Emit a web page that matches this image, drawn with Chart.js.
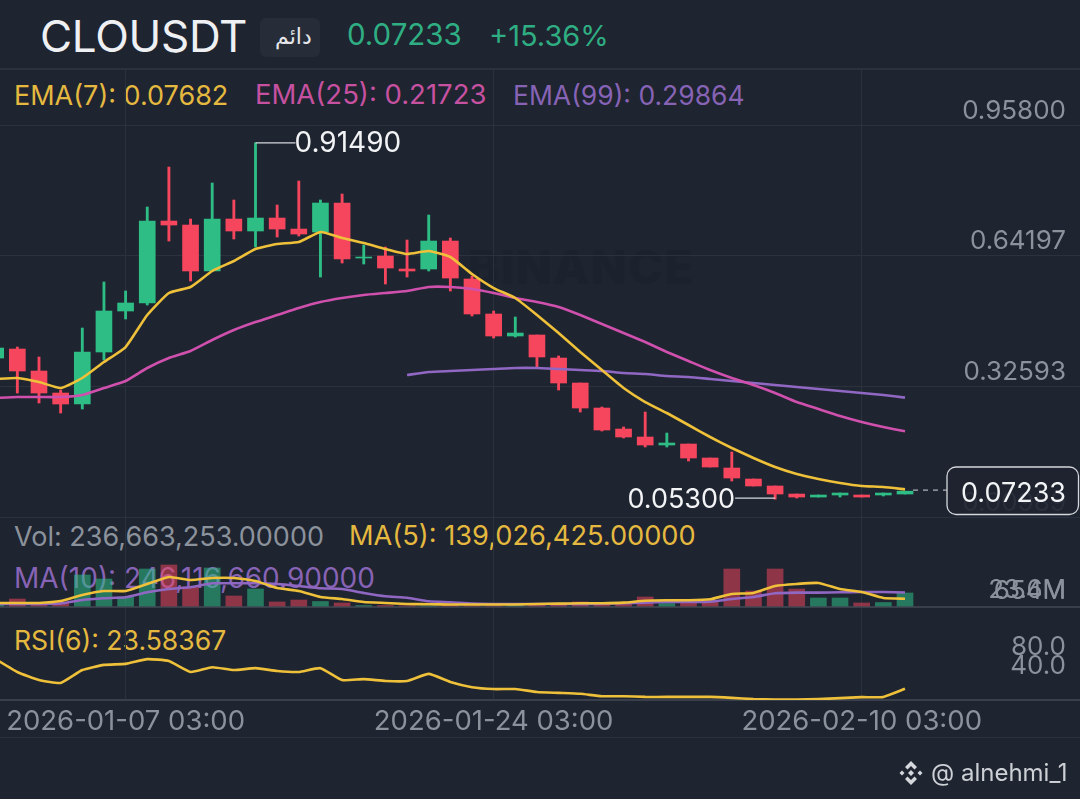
<!DOCTYPE html>
<html><head><meta charset="utf-8">
<script src="https://cdn.jsdelivr.net/npm/chart.js@4"></script>
<style>
html,body{margin:0;padding:0;background:#1e2430;width:1080px;height:799px;overflow:hidden}
body{position:relative;font-family:Inter,"Noto Sans",sans-serif}
.t{position:absolute;white-space:nowrap;line-height:1;transform:translateY(-50%)}
.h{position:absolute;left:0;width:1080px;height:2px;background:#2c323d}
canvas{position:absolute;left:0;top:0}
</style></head><body>
<div class="t" style="left:468px;top:266px;font-size:47px;font-weight:800;color:#1c222d;letter-spacing:1.500px">BINANCE</div>
<div class="h" style="top:68px"></div><div class="h" style="top:737px;height:1px"></div>
<div class="t" style="left:40px;top:36px;font-size:44px;color:#eef0f3;letter-spacing:-.3px">CLOUSDT</div>
<div style="position:absolute;left:260px;top:18px;width:60px;height:39px;background:#262c38;border-radius:6px"></div>
<div class="t" dir="rtl" style="left:275px;top:37px;font-family:'DejaVu Sans';font-size:22px;color:#e4e6ea">دائم</div>
<div class="t" style="left:347px;top:35px;font-size:29.500px;color:#2fae83">0.07233</div>
<div class="t" style="left:489px;top:35px;font-size:29px;color:#2fae83">+15.36%</div>
<div class="t" style="left:14px;top:95px;font-size:27px;color:#e5b93f">EMA(7): 0.07682</div>
<div class="t" style="left:255px;top:95px;font-size:27.500px;color:#c651a0">EMA(25): 0.21723</div>
<div class="t" style="left:513px;top:95px;font-size:26.500px;color:#8763b5">EMA(99): 0.29864</div>
<div class="t" style="left:14px;top:536px;font-size:27px;color:#8b929c">Vol: 236,663,253.00000</div>
<div class="t" style="left:349px;top:536px;font-size:27.200px;color:#e5b93f">MA(5): 139,026,425.00000</div>
<div class="t" style="left:14px;top:578px;font-size:28px;color:#8763b5">MA(10): 246,116,660.90000</div>
<div class="t" style="left:14px;top:640px;font-size:26.600px;color:#e5b93f">RSI(6): 23.58367</div>
<canvas id="c" width="1080" height="799"></canvas>
<svg style="position:absolute;left:896px;top:758px" width="30" height="30" viewBox="0 0 30 30"><g fill="#d5d8dc"><path d="M15 3l6 6-2.5 2.5L15 8l-3.500 3.500L9 9z"/><path d="M15 27l6-6-2.500-2.500L15 22l-3.500-3.500L9 21z"/><path d="M15 12l3 3-3 3-3-3z"/><path d="M6 12.500l2.500 2.500L6 17.500 3.500 15z"/><path d="M24 12.500l2.500 2.500-2.500 2.500-2.500-2.500z"/></g></svg>
<div class="t" style="left:931px;top:773px;font-size:24px;color:#cdd0d5">@ alnehmi_1</div>
<script>
const categories=["2026-01-01 03:00","2026-01-02 03:00","2026-01-03 03:00","2026-01-04 03:00","2026-01-05 03:00","2026-01-06 03:00","2026-01-07 03:00","2026-01-08 03:00","2026-01-09 03:00","2026-01-10 03:00","2026-01-11 03:00","2026-01-12 03:00","2026-01-13 03:00","2026-01-14 03:00","2026-01-15 03:00","2026-01-16 03:00","2026-01-17 03:00","2026-01-18 03:00","2026-01-19 03:00","2026-01-20 03:00","2026-01-21 03:00","2026-01-22 03:00","2026-01-23 03:00","2026-01-24 03:00","2026-01-25 03:00","2026-01-26 03:00","2026-01-27 03:00","2026-01-28 03:00","2026-01-29 03:00","2026-01-30 03:00","2026-01-31 03:00","2026-02-01 03:00","2026-02-02 03:00","2026-02-03 03:00","2026-02-04 03:00","2026-02-05 03:00","2026-02-06 03:00","2026-02-07 03:00","2026-02-08 03:00","2026-02-09 03:00","2026-02-10 03:00","2026-02-11 03:00","2026-02-12 03:00"];
const opens=[.3944,.4162,.3630,.3098,.2832,.4090,.5081,.5275,.7258,.7161,.6049,.7306,.7016,.7330,.7064,.6992,.7693,.6363,.6411,.6097,.6097,.6774,.5855,.5009,.4477,.4501,.3944,.3340,.2735,.2227,.2034,.1840,.1864,.1526,.1284,.1018,.0849,.0655,.0582,.0631,.0631,.0631,.0655];
const closes=[.4186,.3630,.3098,.2832,.4090,.5081,.5275,.7258,.7161,.6049,.7306,.7016,.7330,.7064,.6943,.7693,.6339,.6387,.6121,.6049,.6774,.5879,.5009,.4477,.4549,.3969,.3340,.2735,.2203,.2034,.1840,.1889,.1526,.1308,.1042,.0849,.0655,.0582,.0631,.0679,.0582,.0679,.07233];
const highs=[.4186,.4210,.3969,.3170,.4670,.5783,.5565,.7597,.8564,.7306,.8177,.7766,.9149,.7645,.8225,.7766,.7911,.6677,.6629,.6798,.7403,.6847,.5928,.5081,.4936,.4501,.3993,.3340,.2759,.2276,.2638,.2130,.1864,.1526,.1671,.1018,.0849,.0655,.0631,.0679,.0631,.0679,.07233];
const lows=[.3944,.3098,.2856,.2614,.2711,.3896,.4888,.5226,.6774,.5807,.6049,.6823,.6629,.6871,.6895,.5903,.6242,.6218,.5734,.5903,.6049,.5565,.4960,.4428,.4452,.3727,.3170,.2638,.2179,.2010,.1792,.1792,.1453,.1308,.0970,.0849,.0530,.0558,.0582,.0582,.0582,.0607,.0655];
const ema7=[.3437,.3461,.3364,.3219,.3461,.3848,.4210,.4984,.5517,.5662,.6049,.6290,.6581,.6702,.6750,.6992,.6847,.6726,.6581,.6460,.6532,.6387,.5976,.5637,.5396,.4984,.4549,.4090,.3654,.3219,.2880,.2614,.2324,.2034,.1768,.1526,.1308,.1139,.1018,.0921,.0849,.0825,.0768];
const ema25=[.2977,.3001,.3001,.3001,.3050,.3219,.3388,.3703,.3944,.4114,.4380,.4622,.4815,.4984,.5154,.5299,.5396,.5468,.5517,.5565,.5662,.5662,.5613,.5517,.5396,.5299,.5178,.4984,.4767,.4549,.4331,.4090,.3872,.3654,.3461,.3291,.3098,.2880,.2711,.2542,.2397,.2276,.21723];
const ema99=[null,null,null,null,null,null,null,null,null,null,null,null,null,null,null,null,null,null,null,.3533,.3606,.3630,.3654,.3678,.3703,.3703,.3678,.3654,.3630,.3582,.3557,.3509,.3485,.3437,.3388,.3340,.3291,.3243,.3195,.3146,.3098,.3050,.29864];
const volumes=[68,135,79,79,541,473,169,642,710,338,659,186,304,85,118,93,68,25,25,20,17,30,20,20,25,30,40,85,68,68,169,59,68,101,642,270,642,304,152,152,68,76,237];
const ma5=[68,68,68,101,203,270,270,389,507,456,490,490,439,321,270,169,135,85,68,51,46,42,42,42,42,51,56,63,63,73,106,113,113,130,220,237,355,389,406,304,254,152,139];
const ma10=[51,51,51,59,118,147,164,248,304,333,400,400,400,389,355,316,304,237,181,157,96,79,56,51,51,51,51,51,56,63,73,85,85,90,135,169,232,242,242,248,254,254,246];
const rsi=[86,59,42,36,63,74,76,86,82,59,69,63,67,61,59,67,42,44,40,40,55,38,27,23,23,17,15,13,8,8,6.5,6.5,6.5,6.5,4.5,2,1,1,2,4,6,6.5,23.58];
const priceTicks=[.958,.64197,.32593,.00989];
const volTicks=[0,23.6];
const volTicksB=[654];
const rsiTicks=[0,40,80];
const timeTicks=[6,23,40];
const lastPrice=.07233, maxMark=.9149, minMark=.053, maxIdx=12, minIdx=36, lastIdx=42;

const GREEN='#2ebd85',RED='#f6465d',LINE='#2c323d',SEP='#3a404b',LAB='#8b929c';
const up=i=>closes[i]>=opens[i];
const idx=categories.map((_,i)=>i);
const bars=(vals,fn)=>idx.map(i=>({x:i,y:fn(i)}));
const line=(arr,axis,color,w)=>({type:'line',data:idx.filter(i=>arr[i]!==null).map(i=>({x:i,y:arr[i]})),yAxisID:axis,borderColor:color,borderWidth:w||2.6,pointRadius:0,tension:.15,order:1});
const right=(extra)=>Object.assign({position:'right',afterFit:s=>{s.width=0},border:{display:false},grid:{drawTicks:false,color:LINE,lineWidth:1}},extra);
const tickOpt=(cb,off)=>({mirror:true,padding:-14,labelOffset:off,color:LAB,font:{family:'Inter',size:26},autoSkip:false,callback:cb});
const setTicks=(vals)=>(s)=>{s.ticks=vals.map(v=>({value:v}));};

const marks={id:'marks',afterDraw(ch){
  const c=ch.ctx,X=ch.scales.x,Y=ch.scales.y;c.save();
  c.font='28px Inter';c.textBaseline='middle';
  c.strokeStyle='#d5d8dc';c.lineWidth=1.2;
  const xa=X.getPixelForValue(maxIdx),ya=Y.getPixelForValue(maxMark);
  c.beginPath();c.moveTo(xa,ya);c.lineTo(xa+40,ya);c.stroke();
  c.fillStyle='#f2f3f5';c.textAlign='left';c.fillText(maxMark.toFixed(5),xa+39,ya+1);
  c.font='27px Inter';
  const xb=X.getPixelForValue(minIdx),yb=Y.getPixelForValue(minMark)-1;
  c.beginPath();c.moveTo(xb,yb);c.lineTo(xb-40,yb);c.stroke();
  c.textAlign='right';c.fillText(minMark.toFixed(5),xb-40,yb+2);
  const xl=X.getPixelForValue(lastIdx)+8,yl=Y.getPixelForValue(lastPrice)-1;
  c.setLineDash([5,5]);c.strokeStyle='#aeb3ba';c.beginPath();c.moveTo(xl,yl);c.lineTo(947,yl);c.stroke();c.setLineDash([]);
  c.beginPath();c.roundRect(947,467,131.500,47.500,9);c.fillStyle='rgba(30,36,48,.9)';c.fill();c.strokeStyle='#d5d8dc';c.lineWidth=1.300;c.stroke();
  c.fillStyle='#f2f3f5';c.textAlign='right';c.fillText(lastPrice.toFixed(5),1066,494);
  c.restore();
}};

new Chart(document.getElementById('c'),{
 type:'bar',
 data:{datasets:[
  line(ema7,'y','#efc13a'),line(ema25,'y','#cf50ad'),line(ema99,'y','#9068c4'),
  line(ma5,'yVol','#efc13a'),line(ma10,'yVol','#9068c4'),line(rsi,'yRsi','#efc13a'),
  {data:bars(0,i=>[Math.min(opens[i],closes[i]),Math.max(opens[i],closes[i])]),yAxisID:'y',grouped:false,barThickness:16,order:4,borderSkipped:false,backgroundColor:idx.map(i=>up(i)?GREEN:RED)},
  {data:bars(0,i=>[lows[i],highs[i]]),yAxisID:'y',grouped:false,barThickness:2.2,order:5,backgroundColor:idx.map(i=>up(i)?GREEN:RED)},
  {data:bars(0,i=>volumes[i]),yAxisID:'yVol',grouped:false,barThickness:16,order:6,backgroundColor:idx.map(i=>up(i)?'rgba(46,189,133,.55)':'rgba(246,70,93,.52)')}
 ]},
 options:{
  responsive:false,animation:false,events:[],
  layout:{padding:{top:69,bottom:62,left:0,right:0}},
  plugins:{legend:{display:false},tooltip:{enabled:false}},
  scales:{
   x:{type:'linear',position:'bottom',offset:false,min:0.1986,max:50.0831,border:{display:false},
      afterBuildTicks:setTicks(timeTicks),afterFit:s=>{s.height=37},
      grid:{offset:false,drawTicks:false,color:LINE},
      ticks:{color:LAB,font:{family:'Inter',size:27.5},padding:5,maxRotation:0,minRotation:0,autoSkip:false,callback:v=>categories[v]}},
   y:right({min:-.43269,max:1.09345,afterBuildTicks:setTicks(priceTicks),ticks:tickOpt(v=>v.toFixed(5),-14)}),
   yVol:right({min:-1572,max:9092,afterBuildTicks:setTicks(volTicks),
      grid:{drawTicks:false,color:c=>c.tick.value===0?SEP:'transparent',lineWidth:2},
      ticks:tickOpt(v=>v===0?'':v.toFixed(1)+'M',-15)}),
   yVolB:right({min:560,max:1191,afterBuildTicks:setTicks(volTicksB),grid:{display:false,drawTicks:false},
      ticks:tickOpt(v=>v+'M',-15)}),
   yRsi:right({min:0,max:1328,afterBuildTicks:setTicks(rsiTicks),
      grid:{drawTicks:false,color:c=>c.tick.value===0?SEP:'transparent',lineWidth:2},
      ticks:tickOpt(v=>v===0?'':v.toFixed(1),-15)})
  }
 },
 plugins:[marks]
});
</script>
</body></html>
